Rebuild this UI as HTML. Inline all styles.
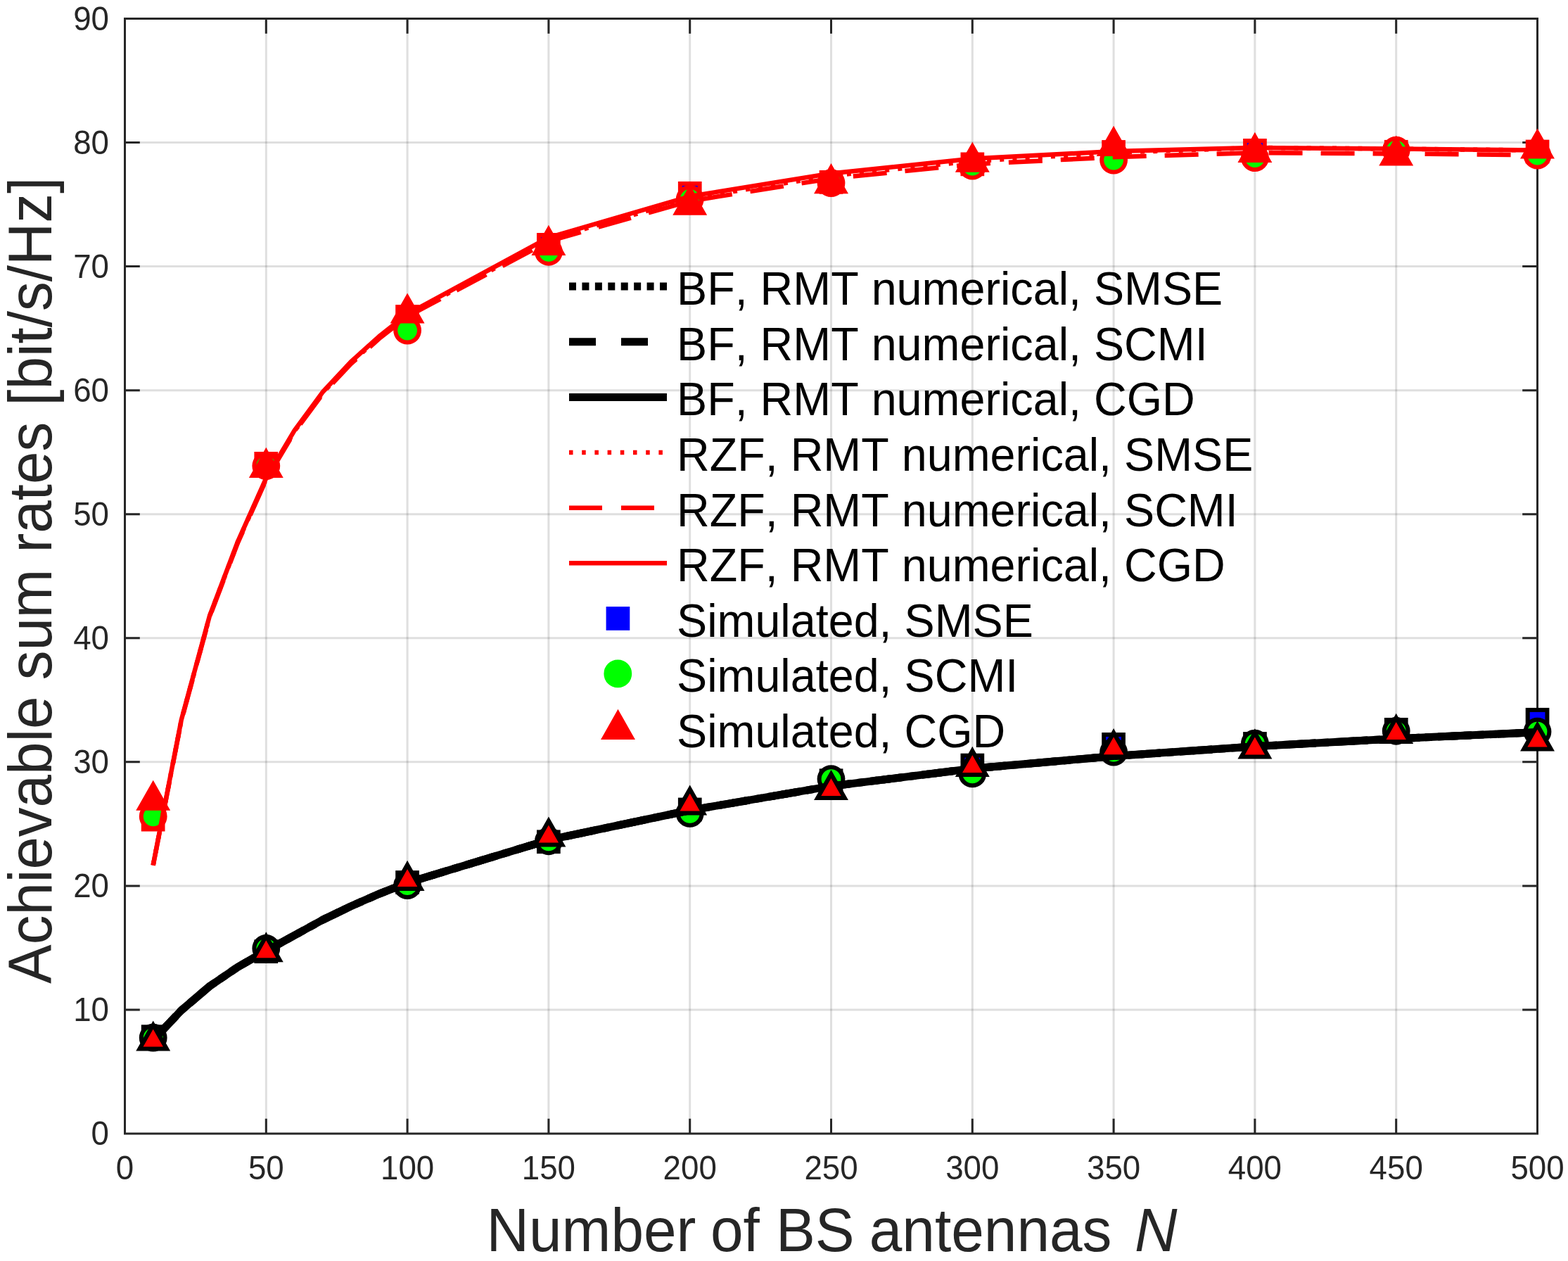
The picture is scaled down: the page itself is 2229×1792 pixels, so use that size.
<!DOCTYPE html>
<html><head><meta charset="utf-8"><title>Achievable sum rates vs number of BS antennas</title>
<style>html,body{margin:0;padding:0;background:#fff;}svg{display:block;}text{font-family:"Liberation Sans",Arial,Helvetica,sans-serif;font-kerning:none;}</style></head><body>
<svg width="2229" height="1792" viewBox="0 0 2229 1792">
<rect width="2229" height="1792" fill="#ffffff"/>
<path d="M378.3 26.5V1611.0M579.1 26.5V1611.0M779.9 26.5V1611.0M980.7 26.5V1611.0M1181.5 26.5V1611.0M1382.3 26.5V1611.0M1583.1 26.5V1611.0M1783.9 26.5V1611.0M1984.7 26.5V1611.0" stroke="#262626" stroke-opacity="0.15" stroke-width="3" fill="none"/>
<path d="M177.5 1434.9H2185.5M177.5 1258.9H2185.5M177.5 1082.8H2185.5M177.5 906.8H2185.5M177.5 730.7H2185.5M177.5 554.7H2185.5M177.5 378.6H2185.5M177.5 202.6H2185.5" stroke="#262626" stroke-opacity="0.15" stroke-width="3" fill="none"/>
<path d="M378.3 1611.0V1589.7M378.3 26.5V47.8M579.1 1611.0V1589.7M579.1 26.5V47.8M779.9 1611.0V1589.7M779.9 26.5V47.8M980.7 1611.0V1589.7M980.7 26.5V47.8M1181.5 1611.0V1589.7M1181.5 26.5V47.8M1382.3 1611.0V1589.7M1382.3 26.5V47.8M1583.1 1611.0V1589.7M1583.1 26.5V47.8M1783.9 1611.0V1589.7M1783.9 26.5V47.8M1984.7 1611.0V1589.7M1984.7 26.5V47.8M177.5 1434.9H198.8M2185.5 1434.9H2164.2M177.5 1258.9H198.8M2185.5 1258.9H2164.2M177.5 1082.8H198.8M2185.5 1082.8H2164.2M177.5 906.8H198.8M2185.5 906.8H2164.2M177.5 730.7H198.8M2185.5 730.7H2164.2M177.5 554.7H198.8M2185.5 554.7H2164.2M177.5 378.6H198.8M2185.5 378.6H2164.2M177.5 202.6H198.8M2185.5 202.6H2164.2" stroke="#262626" stroke-width="3" fill="none"/>
<rect x="177.5" y="26.5" width="2008.0" height="1584.5" fill="none" stroke="#262626" stroke-width="3"/>
<defs><clipPath id="ax"><rect x="147.5" y="26.5" width="2068.0" height="1584.5"/></clipPath></defs>
<g clip-path="url(#ax)">
<rect x="203.8" y="1459.3" width="27.7" height="27.7" fill="#0000ff" stroke="#000000" stroke-width="6"/>
<rect x="203.8" y="1150.8" width="27.7" height="27.7" fill="#0000ff" stroke="#ff0000" stroke-width="6"/>
<rect x="364.4" y="1338.3" width="27.7" height="27.7" fill="#0000ff" stroke="#000000" stroke-width="6"/>
<rect x="364.4" y="645.0" width="27.7" height="27.7" fill="#0000ff" stroke="#ff0000" stroke-width="6"/>
<rect x="565.2" y="1240.1" width="27.7" height="27.7" fill="#0000ff" stroke="#000000" stroke-width="6"/>
<rect x="565.2" y="436.1" width="27.7" height="27.7" fill="#0000ff" stroke="#ff0000" stroke-width="6"/>
<rect x="766.0" y="1182.4" width="27.7" height="27.7" fill="#0000ff" stroke="#000000" stroke-width="6"/>
<rect x="766.0" y="334.0" width="27.7" height="27.7" fill="#0000ff" stroke="#ff0000" stroke-width="6"/>
<rect x="966.9" y="1136.6" width="27.7" height="27.7" fill="#0000ff" stroke="#000000" stroke-width="6"/>
<rect x="966.9" y="260.9" width="27.7" height="27.7" fill="#0000ff" stroke="#ff0000" stroke-width="6"/>
<rect x="1167.7" y="1095.4" width="27.7" height="27.7" fill="#0000ff" stroke="#000000" stroke-width="6"/>
<rect x="1167.7" y="245.0" width="27.7" height="27.7" fill="#0000ff" stroke="#ff0000" stroke-width="6"/>
<rect x="1368.5" y="1073.7" width="27.7" height="27.7" fill="#0000ff" stroke="#000000" stroke-width="6"/>
<rect x="1368.5" y="219.5" width="27.7" height="27.7" fill="#0000ff" stroke="#ff0000" stroke-width="6"/>
<rect x="1569.2" y="1044.0" width="27.7" height="27.7" fill="#0000ff" stroke="#000000" stroke-width="6"/>
<rect x="1569.2" y="202.1" width="27.7" height="27.7" fill="#0000ff" stroke="#ff0000" stroke-width="6"/>
<rect x="1770.1" y="1043.1" width="27.7" height="27.7" fill="#0000ff" stroke="#000000" stroke-width="6"/>
<rect x="1770.1" y="200.0" width="27.7" height="27.7" fill="#0000ff" stroke="#ff0000" stroke-width="6"/>
<rect x="1970.9" y="1023.0" width="27.7" height="27.7" fill="#0000ff" stroke="#000000" stroke-width="6"/>
<rect x="1970.9" y="201.9" width="27.7" height="27.7" fill="#0000ff" stroke="#ff0000" stroke-width="6"/>
<rect x="2171.7" y="1008.9" width="27.7" height="27.7" fill="#0000ff" stroke="#000000" stroke-width="6"/>
<rect x="2171.7" y="201.6" width="27.7" height="27.7" fill="#0000ff" stroke="#ff0000" stroke-width="6"/>
<circle cx="217.7" cy="1474.7" r="16.9" fill="#00ff00" stroke="#000000" stroke-width="6"/>
<circle cx="217.7" cy="1160.3" r="16.9" fill="#00ff00" stroke="#ff0000" stroke-width="6"/>
<circle cx="378.3" cy="1347.8" r="16.9" fill="#00ff00" stroke="#000000" stroke-width="6"/>
<circle cx="378.3" cy="662.1" r="16.9" fill="#00ff00" stroke="#ff0000" stroke-width="6"/>
<circle cx="579.1" cy="1258.2" r="16.9" fill="#00ff00" stroke="#000000" stroke-width="6"/>
<circle cx="579.1" cy="469.6" r="16.9" fill="#00ff00" stroke="#ff0000" stroke-width="6"/>
<circle cx="779.9" cy="1195.3" r="16.9" fill="#00ff00" stroke="#000000" stroke-width="6"/>
<circle cx="779.9" cy="357.8" r="16.9" fill="#00ff00" stroke="#ff0000" stroke-width="6"/>
<circle cx="980.7" cy="1155.9" r="16.9" fill="#00ff00" stroke="#000000" stroke-width="6"/>
<circle cx="980.7" cy="283.0" r="16.9" fill="#00ff00" stroke="#ff0000" stroke-width="6"/>
<circle cx="1181.5" cy="1107.1" r="16.9" fill="#00ff00" stroke="#000000" stroke-width="6"/>
<circle cx="1181.5" cy="260.1" r="16.9" fill="#00ff00" stroke="#ff0000" stroke-width="6"/>
<circle cx="1382.3" cy="1099.4" r="16.9" fill="#00ff00" stroke="#000000" stroke-width="6"/>
<circle cx="1382.3" cy="235.7" r="16.9" fill="#00ff00" stroke="#ff0000" stroke-width="6"/>
<circle cx="1583.1" cy="1068.7" r="16.9" fill="#00ff00" stroke="#000000" stroke-width="6"/>
<circle cx="1583.1" cy="227.6" r="16.9" fill="#00ff00" stroke="#ff0000" stroke-width="6"/>
<circle cx="1783.9" cy="1056.6" r="16.9" fill="#00ff00" stroke="#000000" stroke-width="6"/>
<circle cx="1783.9" cy="224.2" r="16.9" fill="#00ff00" stroke="#ff0000" stroke-width="6"/>
<circle cx="1984.7" cy="1038.8" r="16.9" fill="#00ff00" stroke="#000000" stroke-width="6"/>
<circle cx="1984.7" cy="213.6" r="16.9" fill="#00ff00" stroke="#ff0000" stroke-width="6"/>
<circle cx="2185.5" cy="1039.7" r="16.9" fill="#00ff00" stroke="#000000" stroke-width="6"/>
<circle cx="2185.5" cy="220.7" r="16.9" fill="#00ff00" stroke="#ff0000" stroke-width="6"/>
<g fill="none" stroke-linejoin="round">
<polyline points="217.7,1478.1 257.8,1435.8 298.0,1401.5 338.1,1374.2 378.3,1351.3 418.5,1329.3 458.6,1307.3 498.8,1287.9 538.9,1270.3 579.1,1254.5 779.9,1193.7 980.7,1151.5 1181.5,1117.2 1382.3,1092.3 1583.1,1074.6 1783.9,1060.8 1984.7,1049.7 2185.5,1040.6" stroke="#000" stroke-width="11" stroke-dasharray="10 8.4"/>
<polyline points="217.7,1478.1 257.8,1435.8 298.0,1401.5 338.1,1374.2 378.3,1351.3 418.5,1329.3 458.6,1307.3 498.8,1287.9 538.9,1270.3 579.1,1254.5 779.9,1193.7 980.7,1151.5 1181.5,1117.2 1382.3,1092.3 1583.1,1074.6 1783.9,1060.8 1984.7,1049.7 2185.5,1040.6" stroke="#000" stroke-width="11" stroke-dasharray="38 36"/>
<polyline points="217.7,1478.1 257.8,1435.8 298.0,1401.5 338.1,1374.2 378.3,1351.3 418.5,1329.3 458.6,1307.3 498.8,1287.9 538.9,1270.3 579.1,1254.5 779.9,1193.7 980.7,1151.5 1181.5,1117.2 1382.3,1092.3 1583.1,1074.6 1783.9,1060.8 1984.7,1049.7 2185.5,1040.6" stroke="#000" stroke-width="11"/>
<polyline points="217.7,1229.4 257.8,1023.5 298.0,875.7 338.1,770.2 378.3,680.6 418.5,612.9 458.6,558.5 498.8,515.5 538.9,479.5 579.1,448.0 779.9,340.0 980.7,282.0 1181.5,249.7 1382.3,229.0 1583.1,216.9 1783.9,209.9 1984.7,211.5 2185.5,213.6" stroke="#ff0000" stroke-width="6.5" stroke-dasharray="6 12.2"/>
<polyline points="217.7,1229.8 257.8,1024.1 298.0,876.6 338.1,771.2 378.3,681.7 418.5,614.2 458.6,559.9 498.8,517.1 538.9,481.3 579.1,449.9 779.9,342.9 980.7,285.7 1181.5,253.7 1382.3,233.4 1583.1,223.3 1783.9,217.0 1984.7,218.4 2185.5,220.3" stroke="#ff0000" stroke-width="6.5" stroke-dasharray="48 26"/>
<polyline points="217.7,1229.0 257.8,1023.0 298.0,875.1 338.1,769.5 378.3,679.7 418.5,611.9 458.6,557.3 498.8,514.2 538.9,478.1 579.1,446.4 779.9,337.6 980.7,279.0 1181.5,246.4 1382.3,225.4 1583.1,215.1 1783.9,209.9 1984.7,211.5 2185.5,213.6" stroke="#ff0000" stroke-width="6.5"/>
</g>
<path d="M217.7 1456.5L237.0 1490.5L198.4 1490.5Z" fill="#ff0000" stroke="#000000" stroke-width="6" stroke-miterlimit="10"/>
<path d="M217.7 1114.8L237.0 1148.8L198.4 1148.8Z" fill="#ff0000" stroke="#ff0000" stroke-width="6" stroke-miterlimit="10"/>
<path d="M378.3 1330.3L397.6 1364.3L359.0 1364.3Z" fill="#ff0000" stroke="#000000" stroke-width="6" stroke-miterlimit="10"/>
<path d="M378.3 641.9L397.6 675.9L359.0 675.9Z" fill="#ff0000" stroke="#ff0000" stroke-width="6" stroke-miterlimit="10"/>
<path d="M579.1 1228.9L598.4 1262.9L559.8 1262.9Z" fill="#ff0000" stroke="#000000" stroke-width="6" stroke-miterlimit="10"/>
<path d="M579.1 422.6L598.4 456.6L559.8 456.6Z" fill="#ff0000" stroke="#ff0000" stroke-width="6" stroke-miterlimit="10"/>
<path d="M779.9 1166.6L799.2 1200.6L760.6 1200.6Z" fill="#ff0000" stroke="#000000" stroke-width="6" stroke-miterlimit="10"/>
<path d="M779.9 325.9L799.2 359.9L760.6 359.9Z" fill="#ff0000" stroke="#ff0000" stroke-width="6" stroke-miterlimit="10"/>
<path d="M980.7 1121.5L1000.0 1155.5L961.4 1155.5Z" fill="#ff0000" stroke="#000000" stroke-width="6" stroke-miterlimit="10"/>
<path d="M980.7 268.7L1000.0 302.7L961.4 302.7Z" fill="#ff0000" stroke="#ff0000" stroke-width="6" stroke-miterlimit="10"/>
<path d="M1181.5 1100.0L1200.8 1134.0L1162.2 1134.0Z" fill="#ff0000" stroke="#000000" stroke-width="6" stroke-miterlimit="10"/>
<path d="M1181.5 238.2L1200.8 272.2L1162.2 272.2Z" fill="#ff0000" stroke="#ff0000" stroke-width="6" stroke-miterlimit="10"/>
<path d="M1382.3 1066.9L1401.6 1100.9L1363.0 1100.9Z" fill="#ff0000" stroke="#000000" stroke-width="6" stroke-miterlimit="10"/>
<path d="M1382.3 207.8L1401.6 241.8L1363.0 241.8Z" fill="#ff0000" stroke="#ff0000" stroke-width="6" stroke-miterlimit="10"/>
<path d="M1583.1 1041.2L1602.4 1075.2L1563.8 1075.2Z" fill="#ff0000" stroke="#000000" stroke-width="6" stroke-miterlimit="10"/>
<path d="M1583.1 184.9L1602.4 218.9L1563.8 218.9Z" fill="#ff0000" stroke="#ff0000" stroke-width="6" stroke-miterlimit="10"/>
<path d="M1783.9 1041.4L1803.2 1075.4L1764.6 1075.4Z" fill="#ff0000" stroke="#000000" stroke-width="6" stroke-miterlimit="10"/>
<path d="M1783.9 193.9L1803.2 227.9L1764.6 227.9Z" fill="#ff0000" stroke="#ff0000" stroke-width="6" stroke-miterlimit="10"/>
<path d="M1984.7 1019.9L2004.0 1053.9L1965.4 1053.9Z" fill="#ff0000" stroke="#000000" stroke-width="6" stroke-miterlimit="10"/>
<path d="M1984.7 198.6L2004.0 232.6L1965.4 232.6Z" fill="#ff0000" stroke="#ff0000" stroke-width="6" stroke-miterlimit="10"/>
<path d="M2185.5 1030.5L2204.8 1064.5L2166.2 1064.5Z" fill="#ff0000" stroke="#000000" stroke-width="6" stroke-miterlimit="10"/>
<path d="M2185.5 188.6L2204.8 222.6L2166.2 222.6Z" fill="#ff0000" stroke="#ff0000" stroke-width="6" stroke-miterlimit="10"/>
</g>
<text transform="translate(177.5 1675.8) scale(1 1.041)" font-size="45.7" fill="#262626" text-anchor="middle">0</text>
<text transform="translate(378.3 1675.8) scale(1 1.041)" font-size="45.7" fill="#262626" text-anchor="middle">50</text>
<text transform="translate(579.1 1675.8) scale(1 1.041)" font-size="45.7" fill="#262626" text-anchor="middle">100</text>
<text transform="translate(779.9 1675.8) scale(1 1.041)" font-size="45.7" fill="#262626" text-anchor="middle">150</text>
<text transform="translate(980.7 1675.8) scale(1 1.041)" font-size="45.7" fill="#262626" text-anchor="middle">200</text>
<text transform="translate(1181.5 1675.8) scale(1 1.041)" font-size="45.7" fill="#262626" text-anchor="middle">250</text>
<text transform="translate(1382.3 1675.8) scale(1 1.041)" font-size="45.7" fill="#262626" text-anchor="middle">300</text>
<text transform="translate(1583.1 1675.8) scale(1 1.041)" font-size="45.7" fill="#262626" text-anchor="middle">350</text>
<text transform="translate(1783.9 1675.8) scale(1 1.041)" font-size="45.7" fill="#262626" text-anchor="middle">400</text>
<text transform="translate(1984.7 1675.8) scale(1 1.041)" font-size="45.7" fill="#262626" text-anchor="middle">450</text>
<text transform="translate(2185.5 1675.8) scale(1 1.041)" font-size="45.7" fill="#262626" text-anchor="middle">500</text>
<text transform="translate(155.0 1627.4) scale(1 1.041)" font-size="45.7" fill="#262626" text-anchor="end">0</text>
<text transform="translate(155.0 1451.3) scale(1 1.041)" font-size="45.7" fill="#262626" text-anchor="end">10</text>
<text transform="translate(155.0 1275.3) scale(1 1.041)" font-size="45.7" fill="#262626" text-anchor="end">20</text>
<text transform="translate(155.0 1099.2) scale(1 1.041)" font-size="45.7" fill="#262626" text-anchor="end">30</text>
<text transform="translate(155.0 923.2) scale(1 1.041)" font-size="45.7" fill="#262626" text-anchor="end">40</text>
<text transform="translate(155.0 747.1) scale(1 1.041)" font-size="45.7" fill="#262626" text-anchor="end">50</text>
<text transform="translate(155.0 571.1) scale(1 1.041)" font-size="45.7" fill="#262626" text-anchor="end">60</text>
<text transform="translate(155.0 395.0) scale(1 1.041)" font-size="45.7" fill="#262626" text-anchor="end">70</text>
<text transform="translate(155.0 219.0) scale(1 1.041)" font-size="45.7" fill="#262626" text-anchor="end">80</text>
<text transform="translate(155.0 42.9) scale(1 1.041)" font-size="45.7" fill="#262626" text-anchor="end">90</text>
<text transform="translate(691.5 1778.0) scale(1 1.041)" font-size="83.8" fill="#262626">Number <tspan dx="-2.8">of</tspan> <tspan dx="-0.2">BS</tspan> <tspan dx="-2.2">antennas</tspan> <tspan x="921.5" font-style="italic">N</tspan></text>
<text transform="translate(73.0 1398.0) rotate(-90) scale(1 1.041)" font-size="83.5" fill="#262626">Achievable sum rates [bit/s/Hz]</text>
<g>
<path d="M809 407.1H948" stroke="#000" stroke-width="11" stroke-dasharray="10 8.43"/>
<text transform="translate(962.0 432.9) scale(1 1.041)" font-size="64.7" fill="#000">BF, RMT numerical, SMSE</text>
<path d="M809 485.7H928" stroke="#000" stroke-width="11" stroke-dasharray="38 36"/>
<text transform="translate(962.0 511.5) scale(1 1.041)" font-size="64.7" fill="#000">BF, RMT numerical, SCMI</text>
<path d="M809 564.4H948" stroke="#000" stroke-width="11"/>
<text transform="translate(962.0 590.2) scale(1 1.041)" font-size="64.7" fill="#000">BF, RMT numerical, CGD</text>
<path d="M809 643.0H948" stroke="#f00" stroke-width="6.5" stroke-dasharray="5.5 12.7"/>
<text transform="translate(962.0 668.8) scale(1 1.041)" font-size="64.7" fill="#000">RZF, RMT numerical, SMSE</text>
<path d="M809 721.7H948" stroke="#f00" stroke-width="6.5" stroke-dasharray="47 27"/>
<text transform="translate(962.0 747.5) scale(1 1.041)" font-size="64.7" fill="#000">RZF, RMT numerical, SCMI</text>
<path d="M809 800.3H948" stroke="#f00" stroke-width="6.5"/>
<text transform="translate(962.0 826.1) scale(1 1.041)" font-size="64.7" fill="#000">RZF, RMT numerical, CGD</text>
<rect x="864.6" y="865.1" width="27.7" height="27.7" fill="#0000ff" stroke="#0000ff" stroke-width="6"/>
<text transform="translate(962.0 904.7) scale(1 1.041)" font-size="64.7" fill="#000">Simulated, SMSE</text>
<circle cx="878.3" cy="957.4" r="16.9" fill="#00ff00" stroke="#00ff00" stroke-width="6"/>
<text transform="translate(962.0 983.4) scale(1 1.041)" font-size="64.7" fill="#000">Simulated, SCMI</text>
<path d="M878.5 1013.9L897.8 1047.9L859.2 1047.9Z" fill="#ff0000" stroke="#ff0000" stroke-width="6" stroke-miterlimit="10"/>
<text transform="translate(962.0 1062.0) scale(1 1.041)" font-size="64.7" fill="#000">Simulated, CGD</text>
</g>
</svg></body></html>
